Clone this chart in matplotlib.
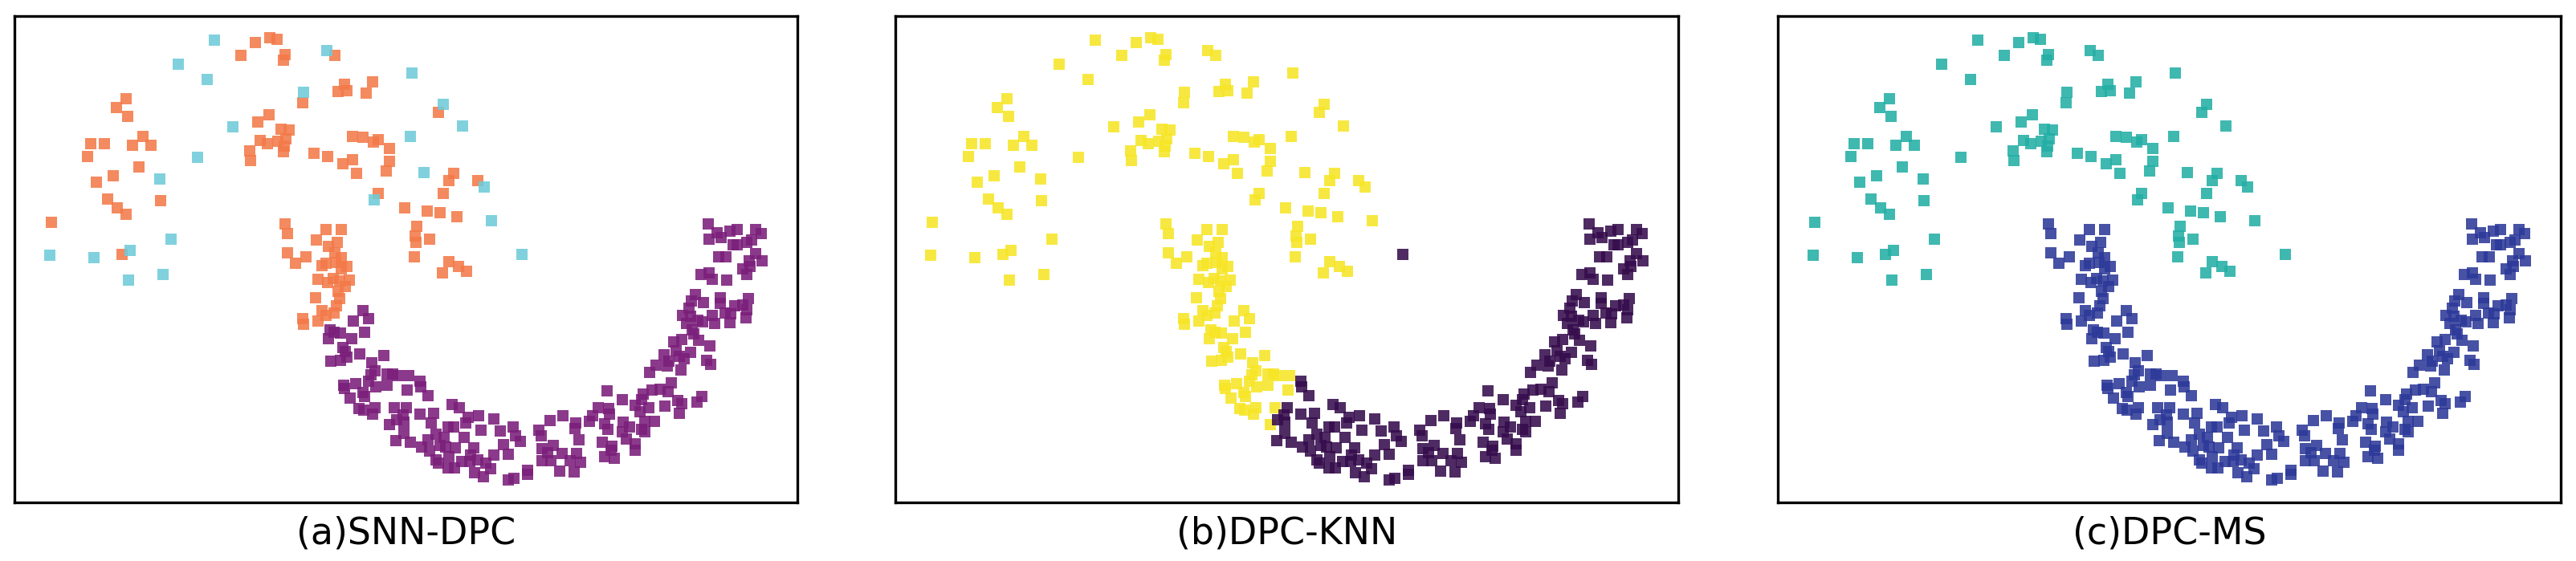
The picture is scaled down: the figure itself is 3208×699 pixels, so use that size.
import matplotlib
matplotlib.use("Agg")
import matplotlib.pyplot as plt

# two-moons data read off the reference (x right, y measured downward)
# upper moon core
upper_x = [318, 336, 345, 300, 355, 353, 417, 429, 421, 432, 464, 456, 377, 157, 145, 159,
           335, 321, 350, 360, 356, 346, 324, 333, 354, 353, 311, 312, 391, 408, 439, 452,
           471, 465, 485, 439, 427, 444, 485, 481, 471, 504, 113, 130, 109, 178, 165, 188,
           173, 141, 120, 134, 146, 157, 200, 64, 152, 546, 565, 559, 595, 552, 532, 548,
           569, 519, 517, 535, 518, 516, 559, 571, 551, 581]
upper_y = [53, 47, 49, 69, 68, 75, 69, 105, 114, 113, 102, 116, 128, 123, 134, 145,
           143, 152, 161, 162, 173, 176, 175, 179, 182, 189, 188, 200, 191, 195, 170, 171,
           174, 177, 185, 199, 204, 216, 201, 213, 241, 259, 179, 179, 195, 170, 181, 181,
           208, 219, 227, 248, 259, 267, 250, 277, 317, 140, 216, 225, 225, 241, 263, 265,
           270, 282, 294, 298, 302, 320, 326, 332, 340, 338]

# scattered points around the upper moon
noise_x = [267, 222, 258, 407, 513, 378, 290, 246, 199, 511, 466, 213, 62, 117, 162,
           552, 576, 528, 603, 612, 203, 160]
noise_y = [50, 80, 99, 63, 91, 115, 158, 196, 223, 170, 249, 298, 318, 321, 312,
           130, 157, 215, 233, 275, 342, 349]

# lone point right of the upper moon
stray_x = [650]
stray_y = [317]

# left end of the lower moon
tail_x = [355, 358, 406, 425, 394, 420, 409, 358, 381, 417, 425, 368, 401, 406, 418, 432,
          425, 396, 408, 415, 423, 435, 430, 421, 393, 423, 419, 401, 406, 416, 377, 378, 396]
tail_y = [279, 291, 286, 286, 299, 302, 307, 315, 320, 315, 321, 328, 331, 328, 327, 332,
          335, 348, 352, 347, 350, 349, 357, 363, 371, 372, 381, 387, 393, 390, 397, 404, 400]

# lower moon, left part
lower_a_x = [452, 459, 440, 411, 424, 416, 409, 454, 438, 427, 430, 432, 412, 424, 448, 478,
             463, 467, 462, 482, 489, 495, 509, 459, 468, 482, 428, 429, 443, 452, 454, 436,
             507, 447, 453, 467, 464, 491, 485]
lower_a_y = [387, 397, 400, 411, 415, 414, 422, 414, 422, 433, 438, 445, 450, 449, 441, 443,
             452, 462, 467, 466, 466, 468, 468, 475, 482, 480, 480, 484, 478, 489, 494, 496,
             486, 509, 511, 508, 516, 508, 529]

# lower moon, rest
lower_b_x = [506, 502, 494, 503, 503, 493, 511,
             523, 524, 533, 563, 572, 523, 540, 537, 583, 596, 615, 580, 558, 565, 543, 553,
             599, 623, 639, 642, 648, 578, 533, 525, 535, 548, 567, 590, 555, 543, 546, 559,
             558, 566, 575, 585, 586, 595, 605, 611, 591, 602, 615, 627, 633, 633, 640, 657,
             657, 671, 674, 685, 701, 675, 682, 689, 700, 675, 686, 697, 715, 710, 723, 718,
             721, 717, 716, 734, 738, 745, 756, 758, 759, 753, 757, 750, 762, 761, 753, 765,
             775, 776, 784, 775, 780, 791, 791, 791, 797, 799, 801, 808, 803, 815, 799, 803,
             812, 822, 832, 836, 828, 844, 849, 846, 868, 874, 809, 817, 827, 831, 833, 839,
             842, 846, 852, 848, 849, 860, 870, 884, 880, 885, 862, 864, 850, 855, 860, 858,
             861, 866, 869, 875, 876, 887, 890, 897, 897, 903, 909, 910, 915, 925, 930, 929,
             932, 873, 883, 887, 905, 925, 930, 934,
             882, 893, 883, 898, 909, 918, 941, 948, 936, 930, 913, 918, 895, 904, 941, 933, 949]
lower_b_y = [508, 517, 523, 526, 540, 549, 551,
             475, 482, 493, 504, 508, 516, 515, 527, 520, 518, 522, 527, 532, 532, 541, 545,
             536, 537, 532, 543, 550, 545, 548, 557, 562, 555, 558, 558, 557, 573, 577, 569,
             583, 583, 575, 575, 567, 573, 577, 584, 589, 594, 567, 554, 566, 598, 596, 586,
             591, 536, 543, 524, 518, 559, 564, 555, 565, 574, 574, 587, 588, 574, 576, 565,
             548, 527, 534, 525, 518, 508, 487, 509, 516, 528, 535, 551, 556, 561, 569, 571,
             498, 526, 532, 538, 547, 553, 561, 505, 513, 498, 491, 508, 525, 525, 535, 538,
             486, 485, 488, 477, 506, 499, 503, 515, 501, 494, 464, 455, 442, 456, 450, 426,
             437, 444, 447, 461, 423, 439, 424, 431, 449, 454, 411, 416, 393, 403, 394, 384,
             375, 367, 399, 401, 377, 393, 403, 371, 378, 390, 402, 391, 381, 380, 386, 396,
             372, 342, 340, 348, 349, 335, 342, 332,
             279, 290, 298, 296, 288, 286, 286, 291, 299, 302, 305, 305, 320, 320, 316, 325, 325]

titles = ["(a)SNN-DPC", "(b)DPC-KNN", "(c)DPC-MS"]

# colour of each group in each panel
orange, cyan, purple = "#f37a49", "#6ecbd9", "#7b1f7b"
yellow, dark = "#f7e526", "#360d4d"
teal, blue = "#24aea5", "#2d3a99"
groups = [
    (upper_x, upper_y, [orange, yellow, teal]),
    (noise_x, noise_y, [cyan, yellow, teal]),
    (stray_x, stray_y, [cyan, dark, teal]),
    (tail_x, tail_y, [orange, yellow, blue]),
    (lower_a_x, lower_a_y, [purple, yellow, blue]),
    (lower_b_x, lower_b_y, [purple, dark, blue]),
]

W, H = 3208, 699
fig = plt.figure(figsize=(W / 300, H / 300), dpi=300)
lefts = [18, 1115, 2214]

for i in range(3):
    ax = fig.add_axes([lefts[i] / W, 1 - 626 / H, 975 / W, 606 / H])
    for gx, gy, cols in groups:
        ax.scatter(gx, gy, s=10, marker="s", color=cols[i], alpha=0.88, linewidths=0)
    ax.set_xlim(18, 993)
    ax.set_ylim(626, 20)
    ax.set_xticks([])
    ax.set_yticks([])
    ax.set_xlabel(titles[i], fontsize=11)

fig.savefig("out.png", dpi=300)
